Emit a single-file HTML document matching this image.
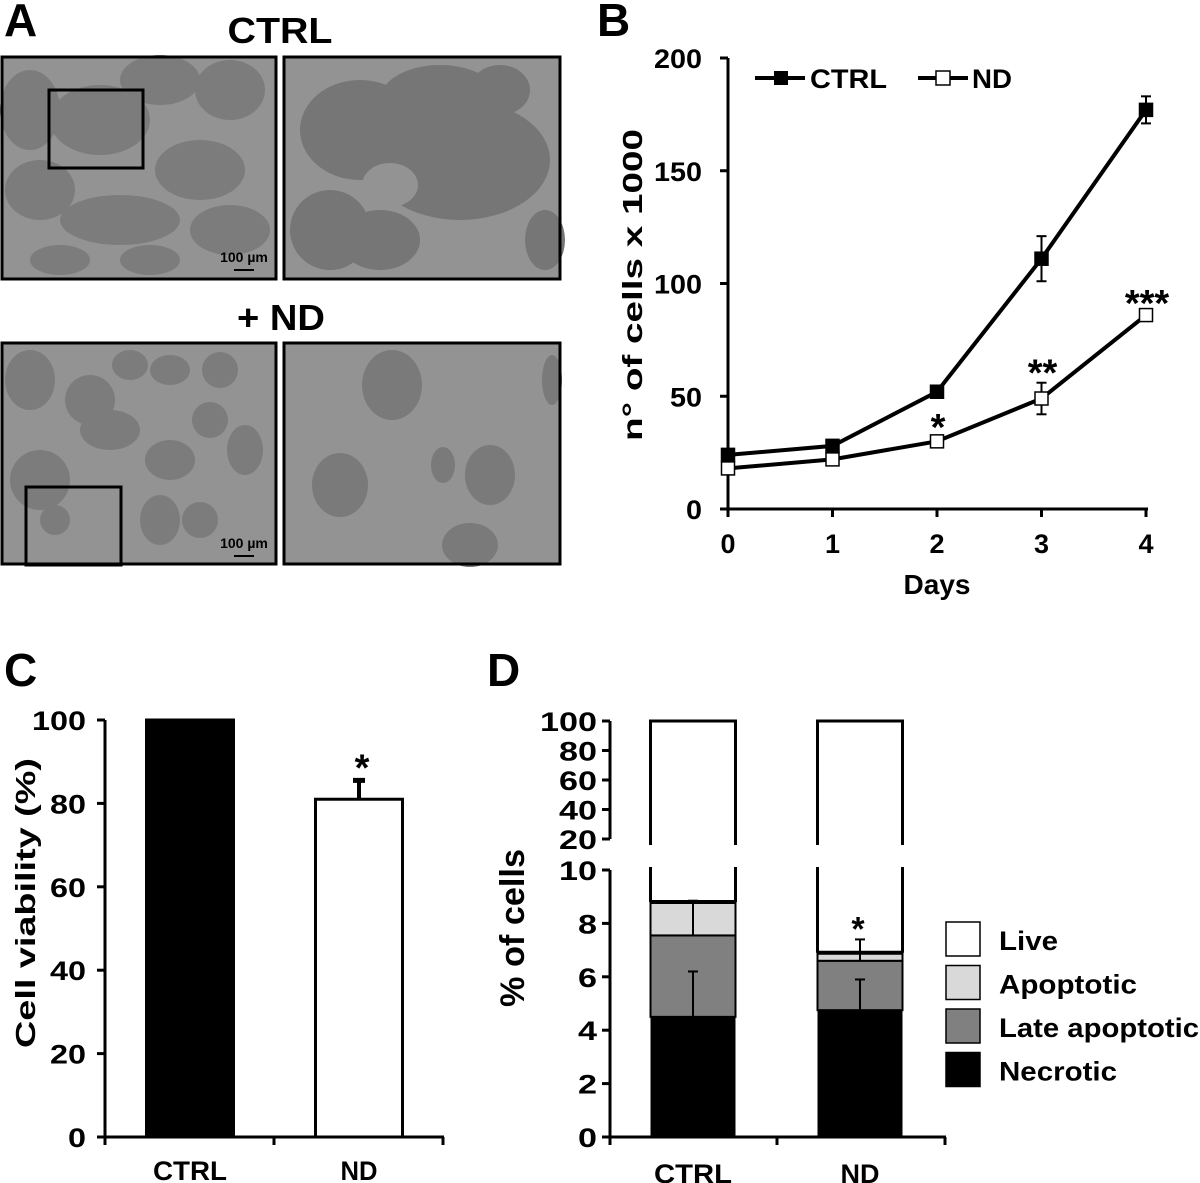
<!DOCTYPE html>
<html><head><meta charset="utf-8"><style>
html,body{margin:0;padding:0;background:#fff;}
svg{display:block;font-family:"Liberation Sans",Arial,sans-serif;font-weight:bold;}
</style></head><body>
<svg id="fig" width="1200" height="1183" viewBox="0 0 1200 1183" xmlns="http://www.w3.org/2000/svg">
<g>
  <text x="4" y="36" font-size="46">A</text>
  <text x="280" y="43" font-size="36" text-anchor="middle" textLength="105" lengthAdjust="spacingAndGlyphs">CTRL</text>
  <text x="281" y="330" font-size="36" text-anchor="middle" textLength="88" lengthAdjust="spacingAndGlyphs">+ ND</text>
  <g>
    <rect x="2" y="57" width="274" height="222" fill="#939393"/>
    <g fill="#7c7c7c">
      <ellipse cx="30" cy="110" rx="30" ry="40"/><ellipse cx="100" cy="120" rx="50" ry="35"/><ellipse cx="160" cy="80" rx="40" ry="25"/>
      <ellipse cx="230" cy="90" rx="35" ry="30"/><ellipse cx="200" cy="170" rx="45" ry="30"/><ellipse cx="120" cy="220" rx="60" ry="25"/>
      <ellipse cx="40" cy="190" rx="35" ry="30"/><ellipse cx="230" cy="230" rx="40" ry="25"/><ellipse cx="60" cy="260" rx="30" ry="15"/><ellipse cx="150" cy="260" rx="30" ry="15"/>
    </g>
    <rect x="2" y="57" width="274" height="222" fill="none" stroke="#000" stroke-width="3"/>
    <rect x="49" y="90" width="94" height="78" fill="none" stroke="#000" stroke-width="3"/>
    <text x="244" y="262" font-size="14" text-anchor="middle">100 µm</text>
    <line x1="234" y1="270" x2="254" y2="270" stroke="#000" stroke-width="2"/>
  </g>
  <g>
    <rect x="284" y="57" width="276" height="222" fill="#939393"/>
    <g fill="#767676">
      <ellipse cx="360" cy="130" rx="60" ry="50"/><ellipse cx="460" cy="160" rx="90" ry="60"/><ellipse cx="440" cy="100" rx="60" ry="35"/>
      <ellipse cx="330" cy="230" rx="40" ry="40"/><ellipse cx="380" cy="240" rx="40" ry="30"/><ellipse cx="500" cy="90" rx="30" ry="25"/><ellipse cx="545" cy="240" rx="20" ry="30"/>
    </g>
    <ellipse cx="390" cy="185" rx="28" ry="22" fill="#939393"/>
    <rect x="284" y="57" width="276" height="222" fill="none" stroke="#000" stroke-width="3"/>
  </g>
  <g>
    <rect x="2" y="343" width="274" height="221" fill="#939393"/>
    <g fill="#7c7c7c">
      <ellipse cx="30" cy="380" rx="25" ry="30"/><ellipse cx="90" cy="400" rx="25" ry="25"/><ellipse cx="130" cy="365" rx="18" ry="15"/>
      <ellipse cx="170" cy="370" rx="20" ry="15"/><ellipse cx="220" cy="370" rx="18" ry="18"/><ellipse cx="110" cy="430" rx="30" ry="20"/>
      <ellipse cx="210" cy="420" rx="18" ry="18"/><ellipse cx="170" cy="460" rx="25" ry="20"/><ellipse cx="40" cy="480" rx="30" ry="30"/>
      <ellipse cx="160" cy="520" rx="20" ry="25"/><ellipse cx="200" cy="520" rx="18" ry="18"/><ellipse cx="55" cy="520" rx="15" ry="15"/><ellipse cx="245" cy="450" rx="18" ry="25"/>
    </g>
    <rect x="2" y="343" width="274" height="221" fill="none" stroke="#000" stroke-width="3"/>
    <rect x="26" y="487" width="95" height="78" fill="none" stroke="#000" stroke-width="3"/>
    <text x="244" y="548" font-size="14" text-anchor="middle">100 µm</text>
    <line x1="234" y1="556" x2="254" y2="556" stroke="#000" stroke-width="2"/>
  </g>
  <g>
    <rect x="284" y="343" width="276" height="221" fill="#939393"/>
    <g fill="#7a7a7a">
      <ellipse cx="392" cy="385" rx="30" ry="35"/><ellipse cx="340" cy="485" rx="28" ry="32"/><ellipse cx="490" cy="475" rx="25" ry="30"/>
      <ellipse cx="443" cy="465" rx="12" ry="18"/><ellipse cx="470" cy="545" rx="28" ry="22"/><ellipse cx="552" cy="380" rx="10" ry="25"/>
    </g>
    <rect x="284" y="343" width="276" height="221" fill="none" stroke="#000" stroke-width="3"/>
  </g>
</g>
<text x="597" y="36" font-size="46">B</text>
<text x="4" y="686" font-size="46">C</text>
<text x="487" y="686" font-size="46">D</text>
<g id="panelB"></g>
<g id="panelC"></g>
<g id="panelD"></g>
</svg>
<script>
// ---- Panel B data
const bDays = [0, 1, 2, 3, 4];
const bCtrl = [24, 28, 52, 111, 177];
const bCtrlErr = [2, 2, 2, 10, 6];
const bNd = [18, 22, 30, 49, 86];
const bNdErr = [1, 1, 2, 7, 1];
const bNdStars = ["", "", "*", "**", "***"];
const bYTicks = [0, 50, 100, 150, 200];
// ---- Panel C data
const cCats = ["CTRL", "ND"];
const cVals = [100, 81];
const cErr = [0, 5];
const cStars = ["", "*"];
const cYTicks = [0, 20, 40, 60, 80, 100];
// ---- Panel D data
const dCats = ["CTRL", "ND"];
const dNecrotic = [4.5, 4.75];
const dLate = [3.05, 1.85];
const dApop = [1.25, 0.3];
const dNecErr = [1.7, 1.15];
const dApopErr = [0.05, 0.5];
const dStars = ["", "*"];
const dUpperTicks = [20, 40, 60, 80, 100];
const dLowerTicks = [0, 2, 4, 6, 8, 10];
const dLegend = ["Live", "Apoptotic", "Late apoptotic", "Necrotic"];

const NS = "http://www.w3.org/2000/svg";
function mk(parent, tag, attrs, text) {
  const e = document.createElementNS(NS, tag);
  for (const k in attrs) e.setAttribute(k, attrs[k]);
  if (text !== undefined) e.textContent = text;
  parent.appendChild(e);
  return e;
}
function fit(e, len) {
  e.setAttribute("textLength", len);
  e.setAttribute("lengthAdjust", "spacingAndGlyphs");
}

// ===== Panel B
(function () {
  const g = document.getElementById("panelB");
  const x = d => 728 + d * (1146 - 728) / 4;
  const y = v => 509 - v * (509 - 58) / 200;
  let e = mk(g, "line", {x1: 728, y1: 58, x2: 728, y2: 511, stroke: "#000", "stroke-width": 3});
   
  e = mk(g, "line", {x1: 720, y1: 509, x2: 1148, y2: 509, stroke: "#000", "stroke-width": 3});
   
  bYTicks.forEach(t => {
    mk(g, "line", {x1: 720, y1: y(t), x2: 728, y2: y(t), stroke: "#000", "stroke-width": 3});
    const l = mk(g, "text", {x: 702, y: y(t) + 10, "font-size": 27, "text-anchor": "end"}, t);
    fit(l, String(t).length * 16);
     
  });
  bDays.forEach(d => {
    mk(g, "line", {x1: x(d), y1: 509, x2: x(d), y2: 517, stroke: "#000", "stroke-width": 3});
    const l = mk(g, "text", {x: x(d), y: 553, "font-size": 27, "text-anchor": "middle"}, d);
     
  });
  e = mk(g, "text", {x: 937, y: 594, "font-size": 28, "text-anchor": "middle"}, "Days");
   
  e = mk(g, "text", {x: 0, y: 0, "font-size": 28, "text-anchor": "middle", transform: "translate(642,285) rotate(-90)"}, "n° of cells x 1000");
  fit(e, 312);
   
  function series(vals, errs, fill, name) {
    const pts = vals.map((v, i) => x(bDays[i]) + "," + y(v)).join(" ");
    const pl = mk(g, "polyline", {points: pts, fill: "none", stroke: "#000", "stroke-width": 4});
     
    vals.forEach((v, i) => {
      const cx = x(bDays[i]);
      mk(g, "line", {x1: cx, y1: y(v + errs[i]), x2: cx, y2: y(v - errs[i]), stroke: "#000", "stroke-width": 2});
      mk(g, "line", {x1: cx - 5, y1: y(v + errs[i]), x2: cx + 5, y2: y(v + errs[i]), stroke: "#000", "stroke-width": 2});
      mk(g, "line", {x1: cx - 5, y1: y(v - errs[i]), x2: cx + 5, y2: y(v - errs[i]), stroke: "#000", "stroke-width": 2});
      const r = mk(g, "rect", {x: cx - 6.5, y: y(v) - 6.5, width: 13, height: 13, fill: fill, stroke: "#000", "stroke-width": 1.5});
       
    });
  }
  series(bCtrl, bCtrlErr, "#000", "ctrl");
  series(bNd, bNdErr, "#fff", "nd");
  bNdStars.forEach((s, i) => {
    if (!s) return;
    const top = y(bNd[i] + bNdErr[i]);
    const t = mk(g, "text", {x: x(bDays[i]) + 1, y: top + 3, "font-size": 38, "text-anchor": "middle"}, s);
     
  });
  mk(g, "line", {x1: 755, y1: 78, x2: 805, y2: 78, stroke: "#000", "stroke-width": 4});
  mk(g, "rect", {x: 774, y: 71, width: 14, height: 14, fill: "#000"});
  e = mk(g, "text", {x: 810, y: 88, "font-size": 27}, "CTRL");
  fit(e, 77);
   
  mk(g, "line", {x1: 918, y1: 78, x2: 968, y2: 78, stroke: "#000", "stroke-width": 4});
  mk(g, "rect", {x: 936, y: 71, width: 14, height: 14, fill: "#fff", stroke: "#000", "stroke-width": 1.5});
  e = mk(g, "text", {x: 972, y: 88, "font-size": 27}, "ND");
  fit(e, 40);
   
})();

// ===== Panel C
(function () {
  const g = document.getElementById("panelC");
  const y = v => 1137 - v * (1137 - 720) / 100;
  const cx = [190, 359], bw = 87;
  cCats.forEach((c, i) => {
    const fill = i === 0 ? "#000" : "#fff";
    const r = mk(g, "rect", {x: cx[i] - bw / 2, y: y(cVals[i]), width: bw, height: 1137 - y(cVals[i]), fill: fill, stroke: "#000", "stroke-width": 3});
     
    if (cErr[i] > 0) {
      mk(g, "line", {x1: cx[i], y1: y(cVals[i]), x2: cx[i], y2: y(cVals[i] + cErr[i]), stroke: "#000", "stroke-width": 4});
      mk(g, "line", {x1: cx[i] - 6, y1: y(cVals[i] + cErr[i]) + 2, x2: cx[i] + 6, y2: y(cVals[i] + cErr[i]) + 2, stroke: "#000", "stroke-width": 5});
    }
    if (cStars[i]) {
      const t = mk(g, "text", {x: cx[i] + 3, y: y(cVals[i] + cErr[i]) + 2, "font-size": 38, "text-anchor": "middle"}, cStars[i]);
       
    }
    const l = mk(g, "text", {x: cx[i], y: 1180, "font-size": 27, "text-anchor": "middle"}, c);
    fit(l, c.length * 18.5);
     
  });
  let e = mk(g, "line", {x1: 105, y1: 720, x2: 105, y2: 1137, stroke: "#000", "stroke-width": 3});
   
  e = mk(g, "line", {x1: 97, y1: 1137, x2: 444, y2: 1137, stroke: "#000", "stroke-width": 3});
   
  [105, 274, 443].forEach(t => mk(g, "line", {x1: t, y1: 1137, x2: t, y2: 1145, stroke: "#000", "stroke-width": 3}));
  cYTicks.forEach(t => {
    mk(g, "line", {x1: 97, y1: y(t), x2: 105, y2: y(t), stroke: "#000", "stroke-width": 3});
    const l = mk(g, "text", {x: 86, y: y(t) + 10, "font-size": 27, "text-anchor": "end"}, t);
    fit(l, String(t).length * 18);
     
  });
  e = mk(g, "text", {x: 0, y: 0, "font-size": 28, "text-anchor": "middle", transform: "translate(35,903) rotate(-90)"}, "Cell viability (%)");
  fit(e, 290);
   
})();

// ===== Panel D
(function () {
  const g = document.getElementById("panelD");
  const yL = v => 1137 - v * (1137 - 870) / 10;
  const yU = v => 839 - (v - 20) * (839 - 721) / 80;
  const cx = [693, 860], bw = 85;
  const segColors = ["#000", "#808080", "#d9d9d9"];
  dCats.forEach((c, i) => {
    const left = cx[i] - bw / 2;
    mk(g, "polyline", {points: `${left},${845} ${left},${yU(100)} ${left + bw},${yU(100)} ${left + bw},${845}`, fill: "#fff", stroke: "#000", "stroke-width": 3});
    const tot = dNecrotic[i] + dLate[i] + dApop[i];
    mk(g, "line", {x1: left, y1: yL(10) - 3, x2: left, y2: yL(tot), stroke: "#000", "stroke-width": 3});
    mk(g, "line", {x1: left + bw, y1: yL(10) - 3, x2: left + bw, y2: yL(tot), stroke: "#000", "stroke-width": 3});
    const segs = [dNecrotic[i], dLate[i], dApop[i]];
    const names = ["necrotic", "late-apoptotic", "apoptotic"];
    let base = 0;
    segs.forEach((s, k) => {
      const r = mk(g, "rect", {x: left, y: yL(base + s), width: bw, height: yL(base) - yL(base + s), fill: segColors[k], stroke: "#000", "stroke-width": k === 0 ? 0 : 2});
       
      base += s;
    });
    mk(g, "line", {x1: left, y1: yL(tot), x2: left + bw, y2: yL(tot), stroke: "#000", "stroke-width": 4});
    const eb = (v0, v1) => {
      mk(g, "line", {x1: cx[i], y1: yL(v0), x2: cx[i], y2: yL(v1), stroke: "#000", "stroke-width": 2});
      mk(g, "line", {x1: cx[i] - 5, y1: yL(v1), x2: cx[i] + 5, y2: yL(v1), stroke: "#000", "stroke-width": 2});
    };
    eb(dNecrotic[i], dNecrotic[i] + dNecErr[i]);
    eb(dNecrotic[i] + dLate[i], tot + dApopErr[i]);
    if (dStars[i]) {
      const t = mk(g, "text", {x: cx[i] - 2, y: yL(tot + dApopErr[i]) + 1, "font-size": 34, "text-anchor": "middle"}, dStars[i]);
       
    }
    const l = mk(g, "text", {x: cx[i], y: 1183, "font-size": 27, "text-anchor": "middle"}, c);
    fit(l, c.length * 19.5);
     
  });
  let e = mk(g, "line", {x1: 610, y1: 721, x2: 610, y2: 839, stroke: "#000", "stroke-width": 3});
   
  e = mk(g, "line", {x1: 610, y1: 870, x2: 610, y2: 1137, stroke: "#000", "stroke-width": 3});
   
  e = mk(g, "line", {x1: 602, y1: 1137, x2: 946, y2: 1137, stroke: "#000", "stroke-width": 3});
   
  [610, 777, 945].forEach(t => mk(g, "line", {x1: t, y1: 1137, x2: t, y2: 1145, stroke: "#000", "stroke-width": 3}));
  dUpperTicks.forEach(t => {
    mk(g, "line", {x1: 602, y1: yU(t), x2: 610, y2: yU(t), stroke: "#000", "stroke-width": 3});
    const l = mk(g, "text", {x: 597, y: yU(t) + 10, "font-size": 27, "text-anchor": "end"}, t);
    fit(l, String(t).length * 19);
     
  });
  dLowerTicks.forEach(t => {
    mk(g, "line", {x1: 602, y1: yL(t), x2: 610, y2: yL(t), stroke: "#000", "stroke-width": 3});
    const l = mk(g, "text", {x: 597, y: yL(t) + 10, "font-size": 27, "text-anchor": "end"}, t);
    fit(l, String(t).length * 19);
     
  });
  e = mk(g, "text", {x: 0, y: 0, "font-size": 34, "text-anchor": "middle", transform: "translate(524,928) rotate(-90)"}, "% of cells");
  fit(e, 158);
   
  const legColors = ["#fff", "#d9d9d9", "#808080", "#000"];
  const legLens = [59, 138, 200, 118];
  dLegend.forEach((n, k) => {
    const ly = 922 + k * 43.5;
    const r = mk(g, "rect", {x: 946, y: ly, width: 34, height: 34, fill: legColors[k], stroke: "#000", "stroke-width": 1.5});
     
    const t = mk(g, "text", {x: 999, y: ly + 28, "font-size": 27}, n);
    fit(t, legLens[k]);
     
  });
})();
</script>
</body></html>
